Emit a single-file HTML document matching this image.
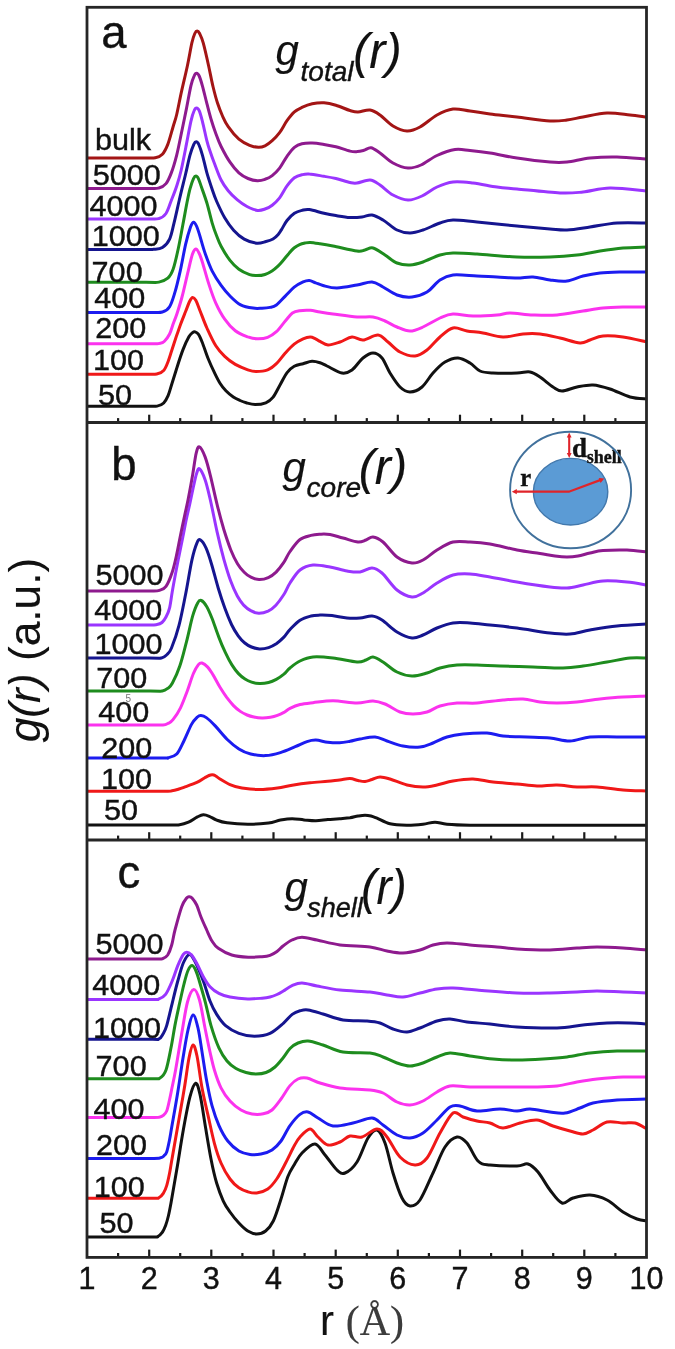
<!DOCTYPE html>
<html><head><meta charset="utf-8"><title>g(r)</title>
<style>
html,body{margin:0;padding:0;background:#fff;}
text.big{stroke-width:0.12px;}
svg{display:block;filter:blur(0.45px);}
text{font-family:"Liberation Sans",sans-serif;fill:#111;stroke:#111;stroke-width:0.4px;}
.c path{fill:none;stroke-width:3;stroke-linejoin:round;stroke-linecap:butt;}
.f{stroke:#262626;stroke-width:2.8;fill:none;}
.t line{stroke:#1a1a1a;stroke-width:2.2;}
</style></head><body>
<svg width="675" height="1349" viewBox="0 0 675 1349">
<rect width="675" height="1349" fill="#fff"/>
<g class="c">
<path d="M87.0,406.2C97.2,406.2 136.2,406.2 148.0,406.2C159.8,406.1 155.2,406.4 157.8,405.9C160.4,405.4 162.0,404.7 163.7,403.0C165.4,401.3 166.7,398.8 168.1,395.6C169.5,392.4 170.4,388.4 171.9,383.7C173.4,379.0 175.2,373.1 177.0,367.4C178.8,361.7 181.0,354.7 183.0,349.6C185.0,344.5 187.3,339.6 188.9,336.8C190.5,334.0 191.6,333.4 192.6,332.6C193.6,331.8 194.1,331.6 195.1,331.9C196.1,332.2 197.3,332.6 198.5,334.3C199.7,336.0 200.6,338.2 202.2,342.2C203.8,346.2 206.1,353.6 208.1,358.5C210.1,363.4 212.1,367.8 214.1,371.9C216.1,376.0 218.0,380.0 220.0,383.2C222.0,386.4 223.7,388.5 225.9,390.8C228.1,393.1 231.0,395.4 233.3,397.0C235.7,398.6 237.8,399.5 240.0,400.5C242.2,401.5 243.7,402.1 246.2,402.8C248.7,403.5 251.8,404.6 255.1,404.6C258.4,404.6 262.8,404.0 265.8,402.8C268.8,401.6 270.5,400.4 272.9,397.4C275.3,394.4 277.6,389.1 280.0,385.0C282.4,380.9 284.7,375.7 287.1,372.6C289.5,369.5 291.5,367.8 294.2,366.3C296.9,364.8 300.1,364.5 303.1,363.7C306.1,362.9 309.2,361.4 312.0,361.3C314.8,361.2 317.5,362.0 320.0,362.8C322.5,363.6 323.3,364.3 327.0,366.0C330.7,367.7 337.8,372.3 342.0,373.0C346.2,373.7 348.5,372.5 352.0,370.0C355.5,367.5 359.5,360.8 363.0,358.0C366.5,355.2 369.8,353.0 373.0,353.0C376.2,353.0 379.2,354.7 382.0,358.0C384.8,361.3 387.0,368.2 390.0,373.0C393.0,377.8 396.7,383.8 400.0,387.0C403.3,390.2 406.3,392.0 410.0,392.0C413.7,392.0 418.2,390.2 422.0,387.0C425.8,383.8 429.2,377.2 433.0,373.0C436.8,368.8 440.8,364.5 445.0,362.0C449.2,359.5 453.8,357.8 458.0,358.0C462.2,358.2 466.3,360.8 470.0,363.0C473.7,365.2 476.2,369.3 480.0,371.0C483.8,372.7 486.8,372.7 493.0,373.0C499.2,373.3 510.8,373.2 517.0,373.0C523.2,372.8 526.2,371.3 530.0,372.0C533.8,372.7 536.2,374.5 540.0,377.0C543.8,379.5 549.3,384.7 553.0,387.0C556.7,389.3 558.0,391.0 562.0,391.0C566.0,391.0 571.8,388.0 577.0,387.0C582.2,386.0 587.5,384.7 593.0,385.0C598.5,385.3 603.8,387.0 610.0,389.0C616.2,391.0 623.8,395.3 630.0,397.0C636.2,398.7 644.2,398.7 647.0,399.0" stroke="#111111"/>
<path d="M87.0,374.3C96.7,374.3 133.2,374.4 145.0,374.3C156.8,374.2 154.3,374.5 157.5,373.8C160.7,373.1 162.1,372.2 163.9,370.2C165.7,368.1 166.8,364.9 168.1,361.5C169.4,358.1 170.4,354.5 171.9,350.0C173.4,345.5 175.5,338.8 177.0,334.5C178.5,330.2 179.3,327.8 180.7,324.0C182.1,320.2 184.1,315.3 185.6,311.5C187.1,307.7 188.6,303.4 189.8,301.0C191.0,298.6 191.7,297.5 192.7,297.4C193.7,297.3 194.6,298.2 195.8,300.3C197.0,302.4 198.0,305.6 199.8,310.2C201.7,314.8 204.2,322.1 206.9,328.0C209.6,333.9 212.8,341.1 215.8,345.8C218.8,350.5 221.4,353.3 224.7,356.4C227.9,359.5 231.5,362.2 235.3,364.4C239.2,366.6 244.4,368.6 247.8,369.8C251.2,371.0 252.7,371.5 256.0,371.5C259.3,371.5 264.2,371.2 267.6,369.9C271.0,368.6 273.4,366.5 276.4,363.7C279.3,360.9 282.3,356.3 285.3,353.0C288.3,349.7 291.2,346.5 294.2,344.1C297.2,341.7 300.4,340.0 303.1,338.8C305.8,337.6 308.1,337.0 310.2,337.0C312.3,337.0 314.0,338.1 315.6,338.8C317.2,339.5 317.9,340.4 320.0,341.4C322.1,342.4 324.7,344.9 328.0,345.0C331.3,345.1 336.0,343.3 340.0,342.0C344.0,340.7 348.2,337.3 352.0,337.0C355.8,336.7 358.7,340.3 363.0,340.0C367.3,339.7 373.8,334.7 378.0,335.0C382.2,335.3 384.3,339.2 388.0,342.0C391.7,344.8 395.5,349.7 400.0,352.0C404.5,354.3 410.5,356.3 415.0,356.0C419.5,355.7 422.8,353.2 427.0,350.0C431.2,346.8 435.7,340.7 440.0,337.0C444.3,333.3 448.5,329.0 453.0,328.0C457.5,327.0 462.0,330.2 467.0,331.0C472.0,331.8 477.0,332.0 483.0,333.0C489.0,334.0 496.3,336.8 503.0,337.0C509.7,337.2 516.8,334.5 523.0,334.0C529.2,333.5 533.8,333.3 540.0,334.0C546.2,334.7 553.3,336.5 560.0,338.0C566.7,339.5 575.0,342.7 580.0,343.0C585.0,343.3 586.2,341.2 590.0,340.0C593.8,338.8 597.5,336.5 603.0,336.0C608.5,335.5 615.7,336.0 623.0,337.0C630.3,338.0 643.0,341.2 647.0,342.0" stroke="#f01818"/>
<path d="M87.0,343.7C97.5,343.7 137.9,343.8 150.0,343.7C162.1,343.6 156.9,343.8 159.3,343.4C161.7,343.0 162.5,343.1 164.2,341.5C165.9,339.9 168.1,337.0 169.6,334.0C171.1,331.0 172.1,326.8 173.3,323.5C174.5,320.2 175.2,318.9 176.7,314.5C178.1,310.1 180.1,304.2 182.0,297.0C183.9,289.8 186.4,278.3 188.2,271.1C189.9,263.9 191.2,257.7 192.5,254.0C193.8,250.3 194.8,249.1 195.9,248.9C197.0,248.7 197.9,250.8 199.0,253.0C200.1,255.2 200.8,257.1 202.4,262.2C204.0,267.3 206.5,276.8 208.7,283.6C210.9,290.4 213.1,297.2 215.8,303.1C218.5,309.0 221.4,314.5 224.7,319.1C227.9,323.7 231.5,327.7 235.3,330.7C239.2,333.7 244.2,335.5 247.8,336.9C251.4,338.2 253.7,338.7 257.0,338.8C260.3,338.9 264.4,338.6 267.6,337.4C270.8,336.2 273.4,334.4 276.4,331.7C279.3,329.0 282.6,324.1 285.3,321.0C288.0,317.9 290.0,314.7 292.4,313.0C294.8,311.3 296.6,311.1 299.6,310.7C302.6,310.2 306.8,310.1 310.2,310.3C313.6,310.5 316.2,311.5 320.0,312.1C323.8,312.7 326.8,313.2 333.0,314.0C339.2,314.8 350.3,316.5 357.0,317.0C363.7,317.5 368.3,316.3 373.0,317.0C377.7,317.7 381.0,319.3 385.0,321.0C389.0,322.7 392.8,325.3 397.0,327.0C401.2,328.7 405.7,331.0 410.0,331.0C414.3,331.0 418.0,329.2 423.0,327.0C428.0,324.8 435.0,320.2 440.0,318.0C445.0,315.8 447.5,314.3 453.0,314.0C458.5,313.7 465.7,315.8 473.0,316.0C480.3,316.2 490.8,315.5 497.0,315.0C503.2,314.5 504.0,313.0 510.0,313.0C516.0,313.0 525.2,314.7 533.0,315.0C540.8,315.3 548.7,315.7 557.0,315.0C565.3,314.3 575.3,312.2 583.0,311.0C590.7,309.8 595.7,308.7 603.0,308.0C610.3,307.3 619.7,307.2 627.0,307.0C634.3,306.8 643.7,307.0 647.0,307.0" stroke="#fb32ee"/>
<path d="M87.0,312.4C97.2,312.4 135.4,312.5 148.0,312.4C160.6,312.3 158.8,312.9 162.4,312.0C166.0,311.1 167.5,310.0 169.6,306.7C171.7,303.4 173.1,298.3 174.9,292.4C176.7,286.5 178.4,279.1 180.2,271.1C182.0,263.1 183.9,251.8 185.6,244.4C187.3,237.1 189.2,230.7 190.5,227.0C191.8,223.3 192.6,222.4 193.6,222.2C194.6,222.0 195.5,223.8 196.5,226.0C197.5,228.2 198.4,231.0 199.8,235.6C201.2,240.2 203.0,247.4 205.1,253.3C207.2,259.2 209.5,265.8 212.2,271.1C214.9,276.4 218.1,281.2 221.1,285.3C224.1,289.4 226.7,292.7 230.0,296.0C233.3,299.3 236.8,302.9 240.7,304.9C244.5,306.9 249.5,307.6 253.1,308.1C256.6,308.7 259.2,308.3 262.0,308.2C264.8,308.1 267.6,307.9 270.0,307.4C272.4,306.9 273.8,306.9 276.4,305.0C278.9,303.1 282.3,299.1 285.3,296.1C288.3,293.1 291.2,289.6 294.2,287.2C297.2,284.8 300.6,283.0 303.1,281.9C305.6,280.8 307.2,280.4 309.3,280.5C311.4,280.6 313.3,282.0 315.6,282.8C317.9,283.6 319.4,284.6 323.0,285.5C326.6,286.4 331.3,288.1 337.0,288.0C342.7,287.9 351.2,286.0 357.0,285.0C362.8,284.0 367.7,281.7 372.0,282.0C376.3,282.3 378.8,284.8 383.0,287.0C387.2,289.2 392.2,293.3 397.0,295.0C401.8,296.7 407.0,297.5 412.0,297.0C417.0,296.5 422.3,294.8 427.0,292.0C431.7,289.2 435.7,282.8 440.0,280.0C444.3,277.2 446.8,275.7 453.0,275.0C459.2,274.3 469.7,275.7 477.0,276.0C484.3,276.3 490.3,276.7 497.0,277.0C503.7,277.3 511.0,278.0 517.0,278.0C523.0,278.0 527.5,276.7 533.0,277.0C538.5,277.3 544.3,279.3 550.0,280.0C555.7,280.7 561.5,281.7 567.0,281.0C572.5,280.3 577.5,277.3 583.0,276.0C588.5,274.7 593.3,273.7 600.0,273.0C606.7,272.3 615.2,272.2 623.0,272.0C630.8,271.8 643.0,272.0 647.0,272.0" stroke="#1c1cf0"/>
<path d="M87.0,282.3C96.8,282.3 134.0,282.3 146.0,282.3C158.0,282.3 155.3,282.8 158.9,282.1C162.5,281.4 165.4,280.3 167.8,278.2C170.2,276.1 171.3,274.3 173.1,269.3C174.9,264.3 176.8,255.5 178.4,248.0C180.0,240.5 181.4,232.3 182.9,224.5C184.4,216.7 186.1,206.9 187.3,201.0C188.5,195.1 189.0,192.6 190.0,188.9C191.0,185.2 192.5,180.7 193.5,178.6C194.5,176.5 195.1,176.1 195.9,176.1C196.7,176.1 197.6,176.9 198.5,178.8C199.4,180.7 200.2,183.5 201.6,187.5C203.0,191.5 205.1,197.1 206.9,203.0C208.7,208.9 210.6,217.7 212.2,223.1C213.8,228.5 215.0,231.7 216.5,235.5C218.0,239.3 218.8,242.0 221.1,246.2C223.3,250.3 227.0,256.5 230.0,260.4C233.0,264.2 235.6,266.9 238.9,269.3C242.2,271.7 246.6,273.6 249.6,274.7C252.6,275.8 254.4,275.6 257.0,275.6C259.6,275.6 262.5,275.3 265.0,274.5C267.5,273.7 269.8,272.4 272.0,271.0C274.2,269.6 276.3,267.7 278.2,265.9C280.1,264.1 281.7,262.1 283.5,260.0C285.3,257.9 287.1,255.4 288.9,253.4C290.6,251.4 292.2,249.5 294.0,248.0C295.8,246.5 297.8,245.4 299.6,244.6C301.4,243.8 303.2,243.4 305.0,243.0C306.8,242.6 307.7,242.3 310.2,242.4C312.7,242.5 316.2,243.1 320.0,243.7C323.8,244.3 326.8,244.8 333.0,246.0C339.2,247.2 351.7,250.3 357.0,251.0C362.3,251.7 362.3,250.5 365.0,250.0C367.7,249.5 369.7,247.2 373.0,248.0C376.3,248.8 381.0,252.5 385.0,255.0C389.0,257.5 392.8,261.3 397.0,263.0C401.2,264.7 405.7,265.2 410.0,265.0C414.3,264.8 418.0,263.7 423.0,262.0C428.0,260.3 435.0,256.5 440.0,255.0C445.0,253.5 446.8,253.2 453.0,253.0C459.2,252.8 466.3,253.3 477.0,254.0C487.7,254.7 504.8,256.5 517.0,257.0C529.2,257.5 540.0,257.3 550.0,257.0C560.0,256.7 568.7,256.0 577.0,255.0C585.3,254.0 592.3,252.2 600.0,251.0C607.7,249.8 615.2,248.7 623.0,248.0C630.8,247.3 643.0,247.2 647.0,247.0" stroke="#1e8c1e"/>
<path d="M87.0,249.5C96.3,249.5 131.9,249.5 143.0,249.5C154.1,249.5 150.4,249.6 153.6,249.3C156.8,249.0 159.7,249.2 162.4,247.5C165.1,245.8 167.7,243.2 169.6,239.1C171.5,235.0 172.4,229.6 174.0,223.1C175.6,216.6 177.4,208.2 179.3,200.0C181.2,191.8 183.8,181.5 185.6,174.0C187.4,166.5 188.6,160.0 190.0,155.1C191.4,150.2 192.8,146.5 193.8,144.3C194.8,142.1 195.4,141.8 196.2,141.8C197.0,141.8 197.8,142.3 198.8,144.5C199.8,146.7 201.1,150.4 202.4,155.1C203.8,159.8 205.3,167.2 206.9,172.9C208.5,178.6 210.6,184.7 212.2,189.5C213.8,194.3 214.6,196.8 216.7,201.5C218.8,206.2 221.9,213.0 224.7,217.8C227.5,222.6 230.3,226.6 233.6,230.2C236.8,233.8 240.3,236.9 244.2,239.1C248.0,241.3 253.1,242.8 256.7,243.2C260.3,243.6 263.3,242.2 266.0,241.5C268.7,240.8 271.0,240.2 273.0,239.0C275.0,237.8 276.8,236.1 278.2,234.5C279.6,232.9 280.0,231.9 281.5,229.6C283.0,227.3 284.9,223.2 287.0,220.5C289.1,217.8 291.9,215.0 294.4,213.3C296.9,211.6 299.4,211.0 301.9,210.4C304.4,209.8 305.6,209.1 309.3,209.6C313.0,210.1 319.6,212.3 324.0,213.3C328.4,214.3 331.6,214.9 335.9,215.6C340.2,216.3 345.6,217.3 350.0,217.5C354.4,217.7 358.3,217.4 362.0,217.0C365.7,216.6 368.5,214.5 372.0,215.0C375.5,215.5 378.8,217.5 383.0,220.0C387.2,222.5 392.5,227.8 397.0,230.0C401.5,232.2 405.7,233.0 410.0,233.0C414.3,233.0 418.0,231.7 423.0,230.0C428.0,228.3 435.0,224.7 440.0,223.0C445.0,221.3 446.8,220.2 453.0,220.0C459.2,219.8 466.3,221.0 477.0,222.0C487.7,223.0 504.8,224.8 517.0,226.0C529.2,227.2 541.7,228.3 550.0,229.0C558.3,229.7 560.3,230.3 567.0,230.0C573.7,229.7 581.7,228.2 590.0,227.0C598.3,225.8 607.5,223.7 617.0,223.0C626.5,222.3 642.0,223.0 647.0,223.0" stroke="#15158f"/>
<path d="M87.0,219.0C96.8,219.0 134.0,219.1 146.0,219.0C158.0,218.9 155.7,219.4 159.0,218.5C162.3,217.6 163.9,216.5 166.0,213.5C168.1,210.5 169.5,205.1 171.3,200.5C173.1,195.9 175.1,191.0 176.7,186.0C178.3,181.0 179.5,177.4 181.1,170.5C182.7,163.6 184.8,152.6 186.4,144.4C188.0,136.2 189.6,127.0 190.9,121.3C192.2,115.6 193.2,112.7 194.2,110.5C195.1,108.3 195.8,108.0 196.6,108.0C197.4,108.0 198.2,108.5 199.2,110.7C200.2,112.9 201.1,116.3 202.4,121.3C203.7,126.3 205.6,135.7 206.9,140.9C208.2,146.1 209.3,148.9 210.5,152.5C211.7,156.1 212.2,157.6 214.0,162.2C215.8,166.8 218.7,175.2 221.1,180.0C223.5,184.8 225.5,187.4 228.2,190.7C230.9,194.0 234.0,197.0 237.1,199.6C240.2,202.2 243.6,204.7 247.0,206.5C250.4,208.3 254.4,210.0 257.4,210.4C260.4,210.8 262.5,209.9 265.0,209.0C267.5,208.1 269.8,207.1 272.2,205.2C274.6,203.3 277.1,201.0 279.6,197.8C282.1,194.6 284.5,189.2 287.0,185.9C289.5,182.6 291.9,179.7 294.4,177.8C296.9,176.0 299.4,175.4 301.9,174.8C304.4,174.2 305.6,173.8 309.3,174.1C313.0,174.3 319.6,175.6 324.0,176.3C328.4,177.0 331.6,177.5 335.9,178.5C340.2,179.5 346.5,181.8 350.0,182.5C353.5,183.2 353.7,183.4 357.0,183.0C360.3,182.6 366.2,179.7 370.0,180.0C373.8,180.3 376.2,182.5 380.0,185.0C383.8,187.5 388.3,192.5 393.0,195.0C397.7,197.5 403.2,199.8 408.0,200.0C412.8,200.2 417.2,198.2 422.0,196.0C426.8,193.8 431.8,189.3 437.0,187.0C442.2,184.7 447.0,182.7 453.0,182.0C459.0,181.3 465.7,182.2 473.0,183.0C480.3,183.8 489.7,186.0 497.0,187.0C504.3,188.0 506.5,188.0 517.0,189.0C527.5,190.0 549.0,192.5 560.0,193.0C571.0,193.5 574.7,192.8 583.0,192.0C591.3,191.2 599.3,188.2 610.0,188.0C620.7,187.8 640.8,190.5 647.0,191.0" stroke="#9a35ff"/>
<path d="M87.0,188.5C96.8,188.5 134.0,188.6 146.0,188.5C158.0,188.4 155.6,188.8 158.9,188.0C162.2,187.2 163.9,186.1 166.0,183.6C168.1,181.1 169.5,177.7 171.3,172.9C173.1,168.2 174.9,162.2 176.7,155.1C178.5,148.0 180.4,137.9 182.0,130.2C183.6,122.5 184.9,116.3 186.4,108.9C187.9,101.5 189.6,91.3 190.9,85.8C192.2,80.3 193.2,77.9 194.2,75.8C195.1,73.7 195.8,73.3 196.6,73.3C197.4,73.3 198.2,73.9 199.2,76.0C200.2,78.1 201.1,81.2 202.4,85.8C203.7,90.4 205.4,97.9 206.9,103.6C208.4,109.3 209.8,115.0 211.3,120.0C212.8,125.0 214.2,129.1 215.8,133.5C217.4,137.9 218.7,141.7 221.1,146.5C223.5,151.3 227.0,157.8 230.0,162.2C233.0,166.6 235.9,170.2 238.9,172.9C241.9,175.6 244.9,177.2 248.0,178.5C251.1,179.8 254.6,180.6 257.4,180.7C260.2,180.8 262.5,180.2 265.0,179.3C267.5,178.5 269.8,177.5 272.2,175.6C274.6,173.7 277.1,171.3 279.6,168.1C282.1,164.9 284.5,159.8 287.0,156.3C289.5,152.9 291.9,149.5 294.4,147.4C296.9,145.3 298.9,144.4 301.9,143.7C304.9,143.0 308.5,142.9 312.2,143.0C315.9,143.1 320.1,143.8 324.0,144.4C327.9,145.0 331.6,145.6 335.9,146.7C340.2,147.8 346.4,150.3 350.0,151.1C353.6,151.9 355.0,151.7 357.3,151.6C359.6,151.5 361.7,150.9 364.0,150.3C366.3,149.7 368.3,147.4 371.0,147.8C373.7,148.2 376.3,150.5 380.0,153.0C383.7,155.5 388.3,160.5 393.0,163.0C397.7,165.5 403.3,167.7 408.0,168.0C412.7,168.3 416.2,167.1 421.0,165.0C425.8,162.9 431.3,158.1 437.0,155.5C442.7,152.9 449.5,150.3 455.0,149.5C460.5,148.7 464.2,149.9 470.0,150.5C475.8,151.1 482.2,151.8 490.0,153.0C497.8,154.2 507.0,156.5 517.0,158.0C527.0,159.5 541.7,161.3 550.0,162.0C558.3,162.7 560.3,162.7 567.0,162.0C573.7,161.3 581.7,158.8 590.0,158.0C598.3,157.2 607.5,156.8 617.0,157.0C626.5,157.2 642.0,158.7 647.0,159.0" stroke="#8e1a8e"/>
<path d="M87.0,158.0C96.3,158.0 131.6,158.0 143.0,158.0C154.4,158.0 152.1,158.4 155.3,157.8C158.5,157.2 160.3,156.4 162.4,154.2C164.5,152.0 166.0,149.0 167.8,144.4C169.6,139.8 171.6,131.7 173.1,126.7C174.6,121.7 175.3,120.4 176.7,114.5C178.1,108.6 179.8,99.1 181.6,91.1C183.4,83.0 185.6,74.2 187.3,66.2C189.0,58.2 190.6,48.6 191.8,43.1C193.1,37.6 193.9,35.5 194.8,33.5C195.7,31.5 196.3,31.0 197.1,31.0C197.9,31.0 198.6,31.5 199.6,33.5C200.6,35.5 201.8,37.6 203.3,43.1C204.8,48.6 207.1,58.9 208.7,66.2C210.3,73.5 211.6,80.9 213.1,87.0C214.6,93.1 215.9,98.2 217.5,103.0C219.1,107.8 220.7,112.0 222.5,116.0C224.3,120.0 225.5,122.9 228.2,126.7C230.9,130.6 235.3,136.0 238.9,139.1C242.5,142.2 246.3,143.9 249.6,145.3C252.8,146.7 255.8,147.2 258.4,147.3C261.0,147.4 262.7,146.9 265.0,145.8C267.3,144.7 269.8,142.9 272.2,140.7C274.6,138.5 277.1,135.9 279.6,132.6C282.1,129.3 284.5,124.2 287.0,120.7C289.5,117.2 291.9,114.1 294.4,111.9C296.9,109.7 298.9,108.8 301.9,107.4C304.9,106.0 308.5,104.5 312.2,103.7C315.9,102.9 320.1,102.5 324.0,102.7C327.9,103.0 331.6,103.9 335.9,105.2C340.2,106.5 346.3,109.4 350.0,110.5C353.7,111.6 354.7,112.1 358.0,112.0C361.3,111.9 366.3,109.5 370.0,110.0C373.7,110.5 376.2,112.3 380.0,115.0C383.8,117.7 388.5,123.3 393.0,126.0C397.5,128.7 402.5,130.8 407.0,131.0C411.5,131.2 415.0,129.7 420.0,127.0C425.0,124.3 431.5,118.0 437.0,115.0C442.5,112.0 447.5,109.7 453.0,109.0C458.5,108.3 463.8,110.2 470.0,111.0C476.2,111.8 482.2,113.0 490.0,114.0C497.8,115.0 507.0,115.8 517.0,117.0C527.0,118.2 541.7,120.5 550.0,121.0C558.3,121.5 561.5,120.7 567.0,120.0C572.5,119.3 576.3,118.2 583.0,117.0C589.7,115.8 599.2,113.3 607.0,113.0C614.8,112.7 623.3,114.3 630.0,115.0C636.7,115.7 644.2,116.7 647.0,117.0" stroke="#a31515"/>
<path d="M87.0,825.0C100.0,825.0 149.6,825.0 165.0,825.0C180.4,825.0 175.7,825.3 179.6,824.8C183.5,824.3 185.5,823.5 188.5,822.2C191.5,820.9 194.9,818.1 197.4,816.9C199.9,815.7 201.3,814.9 203.3,814.8C205.3,814.7 207.1,815.4 209.3,816.3C211.5,817.2 213.8,819.0 216.7,820.1C219.6,821.2 221.8,822.1 227.0,822.8C232.2,823.5 240.9,824.2 247.8,824.3C254.7,824.3 263.1,823.8 268.5,823.1C273.9,822.4 276.4,820.8 280.4,820.1C284.3,819.4 288.3,818.7 292.2,818.7C296.1,818.7 300.1,819.6 304.0,819.9C307.9,820.2 311.9,820.8 315.9,820.7C319.9,820.7 323.9,819.9 327.8,819.6C331.8,819.3 335.9,819.0 339.6,818.7C343.3,818.4 346.9,818.2 350.0,817.8C353.1,817.3 355.5,816.4 358.0,816.0C360.5,815.6 362.8,815.2 365.0,815.2C367.2,815.2 369.0,815.5 371.0,816.0C373.0,816.5 373.8,816.9 377.0,818.2C380.2,819.5 385.0,822.6 390.0,823.8C395.0,825.0 401.5,825.1 407.0,825.2C412.5,825.3 418.3,824.7 423.0,824.2C427.7,823.7 431.0,822.2 435.0,822.2C439.0,822.2 441.2,823.7 447.0,824.2C452.8,824.7 458.7,825.0 470.0,825.2C481.3,825.4 485.5,825.2 515.0,825.2C544.5,825.2 625.0,825.2 647.0,825.2" stroke="#111111"/>
<path d="M87.0,791.3C99.2,791.3 145.8,791.4 160.0,791.3C174.2,791.2 168.8,791.2 172.0,790.8C175.2,790.4 176.7,789.7 179.0,789.0C181.3,788.3 182.5,787.8 185.6,786.7C188.7,785.6 194.2,783.7 197.4,782.2C200.6,780.7 202.9,778.9 204.8,777.8C206.7,776.7 207.8,776.0 209.0,775.5C210.2,775.0 211.1,774.8 212.2,774.8C213.3,774.8 214.3,775.1 215.5,775.8C216.7,776.4 217.2,777.2 219.6,778.7C222.0,780.2 226.3,783.0 230.0,784.6C233.7,786.2 237.0,787.3 241.9,788.1C246.8,788.9 253.7,789.6 259.6,789.6C265.5,789.6 272.0,788.8 277.4,788.1C282.8,787.4 286.8,786.1 292.2,785.2C297.6,784.3 304.1,783.4 310.0,782.8C315.9,782.1 322.9,781.8 327.8,781.3C332.7,780.8 335.9,780.3 339.6,779.9C343.3,779.5 346.9,778.5 350.0,778.6C353.1,778.7 355.5,780.0 358.0,780.5C360.5,781.0 362.7,781.7 365.0,781.5C367.3,781.3 369.5,780.2 372.0,779.5C374.5,778.8 377.0,777.1 380.0,777.0C383.0,776.9 385.5,777.7 390.0,779.0C394.5,780.3 401.5,783.7 407.0,785.0C412.5,786.3 418.0,787.0 423.0,787.0C428.0,787.0 432.0,786.0 437.0,785.0C442.0,784.0 447.0,782.0 453.0,781.0C459.0,780.0 466.3,778.8 473.0,779.0C479.7,779.2 485.7,781.2 493.0,782.0C500.3,782.8 509.7,783.3 517.0,784.0C524.3,784.7 530.3,785.8 537.0,786.0C543.7,786.2 550.3,784.8 557.0,785.0C563.7,785.2 570.3,786.7 577.0,787.0C583.7,787.3 589.3,786.5 597.0,787.0C604.7,787.5 614.7,789.3 623.0,790.0C631.3,790.7 643.0,790.8 647.0,791.0" stroke="#f01818"/>
<path d="M87.0,758.0C99.2,758.0 146.5,758.0 160.0,758.0C173.5,758.0 165.2,758.4 168.0,757.7C170.8,757.0 174.0,756.8 176.7,754.0C179.4,751.2 181.5,745.6 184.0,740.7C186.5,735.8 189.3,728.4 191.5,724.4C193.7,720.4 195.8,718.5 197.4,717.0C199.0,715.5 199.5,715.5 201.0,715.6C202.5,715.7 203.9,715.9 206.3,717.6C208.7,719.3 211.8,722.3 215.2,725.9C218.6,729.5 223.1,735.4 227.0,739.3C230.9,743.1 235.0,746.5 238.9,749.0C242.8,751.5 246.2,752.9 250.7,754.0C255.1,755.1 260.7,755.8 265.6,755.6C270.6,755.4 275.5,754.1 280.4,752.6C285.3,751.1 290.8,748.5 295.2,746.7C299.6,744.9 303.6,742.7 307.0,741.6C310.4,740.5 312.4,740.0 315.9,740.1C319.4,740.2 323.9,741.8 327.8,742.2C331.8,742.7 335.9,742.9 339.6,742.8C343.3,742.6 346.6,741.9 350.0,741.3C353.4,740.7 355.8,739.7 360.0,739.0C364.2,738.3 370.5,736.7 375.0,737.0C379.5,737.3 382.3,739.5 387.0,741.0C391.7,742.5 397.5,745.0 403.0,746.0C408.5,747.0 415.0,747.5 420.0,747.0C425.0,746.5 428.5,744.7 433.0,743.0C437.5,741.3 442.0,738.5 447.0,737.0C452.0,735.5 456.3,734.7 463.0,734.0C469.7,733.3 480.3,732.7 487.0,733.0C493.7,733.3 496.3,735.3 503.0,736.0C509.7,736.7 519.2,736.7 527.0,737.0C534.8,737.3 542.8,737.3 550.0,738.0C557.2,738.7 563.3,741.2 570.0,741.0C576.7,740.8 582.2,737.7 590.0,737.0C597.8,736.3 607.5,737.0 617.0,737.0C626.5,737.0 642.0,737.0 647.0,737.0" stroke="#1c1cf0"/>
<path d="M87.0,725.0C97.7,725.0 138.3,725.0 151.0,725.0C163.7,725.0 160.1,725.3 163.0,725.0C165.9,724.7 166.8,724.0 168.5,723.1C170.2,722.3 171.0,722.3 173.0,719.7C175.0,717.2 178.2,712.6 180.5,707.9C182.8,703.2 184.9,697.2 187.1,691.5C189.2,685.8 191.5,678.0 193.4,673.5C195.3,669.1 197.0,666.4 198.4,664.6C199.8,662.9 200.5,662.6 202.0,663.0C203.5,663.4 205.8,665.1 207.7,667.1C209.6,669.1 211.1,671.8 213.2,675.1C215.2,678.4 217.7,683.5 220.0,687.2C222.3,690.9 224.5,694.3 226.7,697.4C229.0,700.4 231.3,703.3 233.5,705.6C235.8,708.0 238.1,709.8 240.3,711.4C242.6,713.0 244.8,714.0 247.1,715.0C249.3,715.9 251.4,716.5 253.9,717.0C256.4,717.5 259.2,717.9 262.0,718.0C264.8,718.1 267.8,717.7 270.4,717.3C273.0,716.9 275.1,716.3 277.4,715.4C279.7,714.5 282.3,713.2 284.4,712.1C286.5,710.9 287.4,709.6 290.0,708.3C292.6,707.0 296.2,705.4 300.0,704.5C303.8,703.6 307.5,703.3 313.0,702.7C318.5,702.1 325.7,700.8 333.0,700.8C340.3,700.8 350.3,703.0 357.0,703.0C363.7,703.0 368.3,700.8 373.0,701.0C377.7,701.2 380.5,702.2 385.0,704.0C389.5,705.8 395.3,710.3 400.0,712.0C404.7,713.7 408.5,714.0 413.0,714.0C417.5,714.0 422.5,713.3 427.0,712.0C431.5,710.7 435.0,707.5 440.0,706.0C445.0,704.5 450.8,703.5 457.0,703.0C463.2,702.5 469.3,703.5 477.0,703.0C484.7,702.5 495.3,700.7 503.0,700.0C510.7,699.3 516.8,698.7 523.0,699.0C529.2,699.3 534.3,701.3 540.0,702.0C545.7,702.7 550.8,703.0 557.0,703.0C563.2,703.0 569.8,702.7 577.0,702.0C584.2,701.3 592.3,699.8 600.0,699.0C607.7,698.2 615.2,697.5 623.0,697.0C630.8,696.5 643.0,696.2 647.0,696.0" stroke="#fb32ee"/>
<path d="M87.0,691.0C97.5,691.0 137.8,691.0 150.3,691.0C162.9,691.0 159.4,691.5 162.3,691.0C165.2,690.5 166.1,689.6 167.8,688.3C169.5,687.0 170.3,687.0 172.3,683.3C174.3,679.6 177.5,672.9 179.8,666.0C182.2,659.2 184.2,650.5 186.4,642.1C188.6,633.8 190.8,622.4 192.7,615.9C194.6,609.3 196.3,605.4 197.7,602.9C199.1,600.3 199.8,599.9 201.3,600.5C202.8,601.1 205.0,603.7 206.8,606.7C208.6,609.8 210.2,613.7 212.2,618.8C214.1,623.8 216.6,631.5 218.8,637.1C220.9,642.7 223.1,647.8 225.3,652.4C227.5,657.1 229.7,661.4 231.9,664.9C234.1,668.4 236.3,671.3 238.5,673.6C240.7,676.0 242.8,677.6 245.0,679.0C247.2,680.4 249.2,681.3 251.6,682.1C254.0,682.9 256.7,683.5 259.5,683.6C262.3,683.7 265.9,683.2 268.6,682.5C271.4,681.8 273.7,680.8 276.3,679.4C278.8,678.0 281.6,676.0 283.9,674.1C286.2,672.1 287.3,670.2 290.0,668.0C292.7,665.8 296.2,662.8 300.0,661.0C303.8,659.2 307.5,657.5 313.0,657.0C318.5,656.5 325.7,657.2 333.0,658.0C340.3,658.8 351.5,661.7 357.0,662.0C362.5,662.3 363.3,660.8 366.0,660.0C368.7,659.2 370.2,656.7 373.0,657.0C375.8,657.3 379.0,659.5 383.0,662.0C387.0,664.5 392.2,669.7 397.0,672.0C401.8,674.3 407.0,675.8 412.0,676.0C417.0,676.2 422.3,674.3 427.0,673.0C431.7,671.7 435.0,669.3 440.0,668.0C445.0,666.7 450.8,665.5 457.0,665.0C463.2,664.5 469.8,664.8 477.0,665.0C484.2,665.2 490.7,665.7 500.0,666.0C509.3,666.3 522.5,666.7 533.0,667.0C543.5,667.3 554.7,668.2 563.0,668.0C571.3,667.8 575.7,667.0 583.0,666.0C590.3,665.0 599.2,663.3 607.0,662.0C614.8,660.7 623.3,658.7 630.0,658.0C636.7,657.3 644.2,658.0 647.0,658.0" stroke="#1e8c1e"/>
<path d="M87.0,658.0C97.4,658.0 137.1,658.0 149.5,658.0C161.9,658.0 158.6,658.6 161.5,658.0C164.4,657.4 165.3,656.1 167.0,654.5C168.7,652.8 169.5,652.8 171.5,648.0C173.5,643.1 176.7,634.4 179.0,625.4C181.3,616.5 183.4,605.2 185.6,594.3C187.8,583.4 190.0,568.6 191.9,560.1C193.8,551.5 195.5,546.4 196.9,543.1C198.3,539.7 199.0,539.1 200.5,540.0C202.0,540.9 204.3,544.2 206.1,548.2C207.9,552.2 209.5,557.3 211.5,564.0C213.5,570.6 216.0,580.6 218.2,588.0C220.4,595.3 222.6,602.0 224.8,608.1C227.0,614.2 229.3,619.8 231.5,624.5C233.7,629.1 236.0,632.8 238.2,635.9C240.4,639.0 242.6,641.2 244.8,643.0C247.0,644.9 249.1,646.0 251.5,647.0C253.9,648.0 256.6,648.9 259.5,649.0C262.4,649.1 265.9,648.5 268.6,647.6C271.4,646.7 273.7,645.5 276.3,643.8C278.8,642.0 281.6,639.4 283.9,637.1C286.2,634.7 287.3,632.3 290.0,629.5C292.7,626.7 296.5,622.5 300.0,620.2C303.5,618.0 307.7,616.9 311.0,616.0C314.3,615.1 316.5,615.2 320.0,615.1C323.5,615.0 327.5,615.1 332.0,615.6C336.5,616.1 342.3,617.6 347.0,618.0C351.7,618.4 355.8,618.3 360.0,618.0C364.2,617.7 368.3,615.7 372.0,616.0C375.7,616.3 377.8,617.3 382.0,620.0C386.2,622.7 392.0,629.0 397.0,632.0C402.0,635.0 407.7,637.5 412.0,638.0C416.3,638.5 418.8,636.7 423.0,635.0C427.2,633.3 432.0,630.0 437.0,628.0C442.0,626.0 447.5,623.8 453.0,623.0C458.5,622.2 463.8,622.7 470.0,623.0C476.2,623.3 482.2,624.2 490.0,625.0C497.8,625.8 507.0,626.7 517.0,628.0C527.0,629.3 541.2,632.0 550.0,633.0C558.8,634.0 563.3,634.5 570.0,634.0C576.7,633.5 582.2,631.3 590.0,630.0C597.8,628.7 607.5,627.0 617.0,626.0C626.5,625.0 642.0,624.3 647.0,624.0" stroke="#15158f"/>
<path d="M87.0,625.0C96.7,625.0 133.3,625.1 145.0,625.0C156.7,624.9 154.2,625.0 157.0,624.6C159.8,624.2 160.5,623.8 162.0,622.5C163.5,621.2 164.7,619.5 166.0,617.0C167.3,614.5 168.6,612.0 169.6,607.8C170.6,603.6 171.2,597.9 172.2,592.0C173.2,586.1 174.6,578.5 175.8,572.2C177.0,565.9 178.1,560.3 179.3,554.4C180.5,548.5 181.7,542.6 182.9,536.7C184.1,530.8 185.2,524.5 186.4,518.9C187.6,513.3 188.8,508.5 190.0,503.0C191.2,497.5 192.5,490.9 193.6,486.0C194.7,481.1 195.6,476.4 196.6,473.5C197.6,470.6 198.0,467.8 199.4,468.8C200.8,469.8 203.2,474.3 205.0,479.6C206.9,484.9 208.4,491.8 210.5,500.6C212.5,509.4 215.0,522.6 217.2,532.4C219.4,542.1 221.6,551.0 223.8,559.1C226.1,567.2 228.3,574.6 230.6,580.8C232.8,586.9 235.1,591.9 237.3,596.0C239.5,600.1 241.7,602.9 243.9,605.4C246.2,607.8 248.2,609.4 250.7,610.7C253.1,612.0 255.8,613.2 258.7,613.3C261.6,613.4 265.2,612.5 268.1,611.2C271.0,609.8 273.3,607.9 275.9,605.2C278.5,602.4 281.4,598.4 283.7,594.8C286.1,591.1 287.3,587.1 290.0,583.0C292.7,578.9 296.2,573.0 300.0,570.0C303.8,567.0 308.0,565.5 313.0,565.0C318.0,564.5 324.3,566.0 330.0,567.0C335.7,568.0 342.0,570.2 347.0,571.0C352.0,571.8 355.8,572.5 360.0,572.0C364.2,571.5 368.3,567.8 372.0,568.0C375.7,568.2 377.8,569.3 382.0,573.0C386.2,576.7 392.0,586.0 397.0,590.0C402.0,594.0 407.7,596.5 412.0,597.0C416.3,597.5 418.8,595.3 423.0,593.0C427.2,590.7 432.0,586.0 437.0,583.0C442.0,580.0 447.5,576.5 453.0,575.0C458.5,573.5 463.8,573.7 470.0,574.0C476.2,574.3 482.2,575.7 490.0,577.0C497.8,578.3 507.0,580.3 517.0,582.0C527.0,583.7 541.7,586.0 550.0,587.0C558.3,588.0 561.5,588.3 567.0,588.0C572.5,587.7 577.0,586.2 583.0,585.0C589.0,583.8 595.7,581.5 603.0,581.0C610.3,580.5 619.7,581.3 627.0,582.0C634.3,582.7 643.7,584.5 647.0,585.0" stroke="#9a35ff"/>
<path d="M87.0,591.0C95.8,591.0 129.2,591.0 140.0,591.0C150.8,591.0 148.8,591.1 152.0,591.0C155.2,590.9 157.2,591.1 159.5,590.3C161.8,589.5 163.9,589.4 166.0,586.4C168.1,583.4 170.4,577.5 172.2,572.2C174.0,566.9 175.4,560.3 176.7,554.4C178.0,548.5 178.9,543.2 180.2,536.7C181.5,530.2 183.4,521.6 184.7,515.3C186.0,509.0 186.9,505.8 188.2,499.0C189.5,492.2 191.4,482.0 192.7,474.4C194.0,466.8 195.1,457.7 196.2,453.1C197.3,448.5 197.9,446.3 199.4,446.9C200.9,447.5 203.2,452.0 205.1,456.9C206.9,461.7 208.5,468.0 210.5,476.1C212.5,484.2 215.0,496.3 217.3,505.3C219.5,514.2 221.7,522.4 223.9,529.8C226.2,537.2 228.5,544.1 230.7,549.7C233.0,555.4 235.2,559.9 237.5,563.7C239.7,567.4 241.9,570.0 244.2,572.3C246.4,574.6 248.4,576.0 250.9,577.2C253.4,578.4 256.1,579.5 259.0,579.6C261.9,579.7 265.5,578.9 268.3,577.6C271.1,576.4 273.5,574.6 276.1,572.1C278.6,569.5 281.5,565.8 283.8,562.4C286.1,559.0 287.3,555.3 290.0,551.5C292.7,547.7 296.5,542.2 300.0,539.5C303.5,536.8 307.7,536.3 311.0,535.4C314.3,534.5 316.8,534.4 320.0,534.2C323.2,534.1 326.2,533.9 330.0,534.5C333.8,535.1 338.3,536.8 343.0,538.0C347.7,539.2 354.2,541.7 358.0,542.0C361.8,542.3 363.5,540.8 366.0,540.0C368.5,539.2 370.2,536.7 373.0,537.0C375.8,537.3 379.0,538.7 383.0,542.0C387.0,545.3 392.2,553.5 397.0,557.0C401.8,560.5 407.7,562.5 412.0,563.0C416.3,563.5 418.8,562.2 423.0,560.0C427.2,557.8 432.0,553.0 437.0,550.0C442.0,547.0 447.5,543.3 453.0,542.0C458.5,540.7 463.8,541.7 470.0,542.0C476.2,542.3 482.2,542.7 490.0,544.0C497.8,545.3 508.7,548.4 517.0,550.0C525.3,551.6 533.7,552.5 540.0,553.5C546.3,554.5 550.5,555.4 555.0,556.0C559.5,556.6 563.2,557.0 567.0,557.0C570.8,557.0 574.2,556.7 578.0,556.0C581.8,555.3 585.8,553.9 590.0,553.0C594.2,552.1 596.8,551.0 603.0,550.5C609.2,550.0 619.7,549.8 627.0,550.0C634.3,550.2 643.7,551.7 647.0,552.0" stroke="#8e1a8e"/>
<path d="M87.0,1237.0C97.5,1237.0 138.2,1237.1 150.0,1237.0C161.8,1236.9 155.9,1237.1 158.0,1236.3C160.1,1235.5 161.2,1233.8 162.5,1232.0C163.8,1230.2 164.6,1228.3 165.6,1225.6C166.6,1222.8 167.6,1219.3 168.5,1215.5C169.4,1211.7 169.6,1210.6 171.0,1203.0C172.4,1195.4 174.6,1182.2 176.7,1170.0C178.8,1157.8 181.1,1142.2 183.3,1130.0C185.5,1117.8 187.9,1104.5 190.0,1096.7C192.1,1088.9 193.9,1083.7 195.6,1083.3C197.3,1082.9 198.3,1087.0 200.0,1094.4C201.7,1101.8 203.8,1117.0 205.6,1127.8C207.4,1138.6 209.2,1149.8 211.0,1159.0C212.8,1168.2 214.6,1176.3 216.7,1183.3C218.8,1190.3 221.1,1196.2 223.3,1201.0C225.5,1205.8 227.4,1208.3 230.0,1212.0C232.6,1215.7 235.9,1219.8 238.9,1223.0C241.9,1226.2 244.8,1229.2 247.8,1231.0C250.8,1232.8 253.7,1234.0 256.7,1234.0C259.7,1234.0 262.8,1233.2 265.6,1231.0C268.4,1228.8 270.7,1226.3 273.3,1221.0C275.9,1215.7 278.6,1206.4 281.0,1199.0C283.4,1191.6 285.6,1182.5 287.8,1176.7C290.0,1170.9 292.0,1168.4 294.4,1164.4C296.8,1160.5 298.6,1156.4 302.0,1153.0C305.4,1149.6 311.2,1143.7 315.0,1144.0C318.8,1144.3 321.3,1150.7 325.0,1155.0C328.7,1159.3 333.7,1167.0 337.0,1170.0C340.3,1173.0 341.7,1174.3 345.0,1173.0C348.3,1171.7 353.2,1167.8 357.0,1162.0C360.8,1156.2 364.7,1143.3 368.0,1138.0C371.3,1132.7 374.2,1129.2 377.0,1130.0C379.8,1130.8 382.3,1135.8 385.0,1143.0C387.7,1150.2 390.2,1163.8 393.0,1173.0C395.8,1182.2 399.2,1192.5 402.0,1198.0C404.8,1203.5 407.0,1205.7 410.0,1206.0C413.0,1206.3 416.2,1205.5 420.0,1200.0C423.8,1194.5 428.8,1181.8 433.0,1173.0C437.2,1164.2 441.0,1153.0 445.0,1147.0C449.0,1141.0 453.3,1137.7 457.0,1137.0C460.7,1136.3 463.5,1139.0 467.0,1143.0C470.5,1147.0 474.2,1157.3 478.0,1161.0C481.8,1164.7 483.5,1164.2 490.0,1165.0C496.5,1165.8 510.7,1166.2 517.0,1166.0C523.3,1165.8 524.5,1163.0 528.0,1164.0C531.5,1165.0 534.3,1167.7 538.0,1172.0C541.7,1176.3 546.0,1184.8 550.0,1190.0C554.0,1195.2 558.2,1201.7 562.0,1203.0C565.8,1204.3 568.3,1199.3 573.0,1198.0C577.7,1196.7 584.3,1194.7 590.0,1195.0C595.7,1195.3 601.5,1197.2 607.0,1200.0C612.5,1202.8 618.0,1208.8 623.0,1212.0C628.0,1215.2 633.0,1217.5 637.0,1219.0C641.0,1220.5 645.3,1220.7 647.0,1221.0" stroke="#111111"/>
<path d="M87.0,1198.3C97.5,1198.3 138.0,1198.4 150.0,1198.3C162.0,1198.2 156.8,1198.5 159.0,1197.6C161.2,1196.7 162.2,1195.0 163.5,1193.0C164.8,1191.0 165.7,1188.8 166.7,1185.6C167.7,1182.3 168.6,1177.9 169.5,1173.5C170.4,1169.1 170.4,1168.1 172.0,1159.0C173.6,1149.9 176.9,1130.9 179.0,1119.0C181.1,1107.1 182.7,1098.0 184.4,1087.8C186.1,1077.6 187.6,1065.1 189.0,1058.0C190.4,1050.9 191.7,1045.3 193.0,1045.0C194.3,1044.7 195.5,1048.9 197.0,1056.0C198.5,1063.1 200.2,1078.1 202.0,1087.8C203.8,1097.5 205.7,1105.2 207.8,1114.4C209.9,1123.7 212.2,1135.2 214.4,1143.3C216.6,1151.4 218.4,1157.0 221.0,1163.0C223.6,1169.0 227.0,1174.9 230.0,1179.0C233.0,1183.1 235.9,1185.7 238.9,1187.8C241.9,1189.9 244.8,1190.9 247.8,1191.8C250.8,1192.7 253.4,1193.5 256.7,1193.0C260.0,1192.5 264.5,1191.3 267.8,1189.0C271.1,1186.7 273.7,1183.3 276.7,1179.0C279.7,1174.7 282.7,1168.6 285.6,1163.0C288.6,1157.4 292.0,1149.9 294.4,1145.6C296.8,1141.3 297.4,1139.8 300.0,1137.0C302.6,1134.2 307.0,1129.0 310.0,1129.0C313.0,1129.0 315.0,1134.3 318.0,1137.0C321.0,1139.7 324.3,1144.2 328.0,1145.0C331.7,1145.8 336.3,1143.5 340.0,1142.0C343.7,1140.5 346.3,1136.8 350.0,1136.0C353.7,1135.2 357.5,1138.2 362.0,1137.0C366.5,1135.8 372.8,1129.0 377.0,1129.0C381.2,1129.0 383.2,1132.3 387.0,1137.0C390.8,1141.7 395.3,1152.3 400.0,1157.0C404.7,1161.7 410.5,1164.8 415.0,1165.0C419.5,1165.2 422.8,1163.3 427.0,1158.0C431.2,1152.7 435.7,1140.5 440.0,1133.0C444.3,1125.5 449.2,1115.7 453.0,1113.0C456.8,1110.3 459.0,1115.7 463.0,1117.0C467.0,1118.3 472.5,1120.0 477.0,1121.0C481.5,1122.0 485.7,1121.8 490.0,1123.0C494.3,1124.2 498.0,1128.0 503.0,1128.0C508.0,1128.0 514.3,1124.3 520.0,1123.0C525.7,1121.7 531.5,1119.5 537.0,1120.0C542.5,1120.5 547.5,1124.2 553.0,1126.0C558.5,1127.8 565.0,1129.7 570.0,1131.0C575.0,1132.3 579.2,1134.2 583.0,1134.0C586.8,1133.8 589.0,1132.0 593.0,1130.0C597.0,1128.0 602.0,1123.2 607.0,1122.0C612.0,1120.8 618.3,1122.8 623.0,1123.0C627.7,1123.2 631.0,1122.0 635.0,1123.0C639.0,1124.0 645.0,1128.0 647.0,1129.0" stroke="#f01818"/>
<path d="M87.0,1158.4C97.5,1158.4 137.8,1158.5 150.0,1158.4C162.2,1158.3 158.2,1158.2 160.5,1157.8C162.8,1157.4 163.0,1156.8 164.0,1155.8C165.0,1154.8 165.8,1154.6 166.7,1152.0C167.6,1149.4 168.6,1144.4 169.5,1140.0C170.4,1135.6 170.6,1133.6 172.0,1125.6C173.4,1117.6 176.0,1103.3 177.8,1092.0C179.6,1080.7 181.3,1068.3 183.0,1058.0C184.7,1047.7 186.3,1037.2 188.0,1030.0C189.7,1022.8 191.3,1015.3 193.0,1015.0C194.7,1014.7 196.4,1021.3 198.0,1028.0C199.6,1034.7 201.1,1046.2 202.5,1055.0C203.9,1063.8 205.1,1072.6 206.7,1081.0C208.3,1089.4 209.9,1098.2 212.0,1105.6C214.1,1113.0 216.4,1119.7 219.0,1125.6C221.6,1131.5 224.5,1136.8 227.8,1141.0C231.1,1145.2 235.2,1148.8 238.9,1151.0C242.6,1153.2 246.3,1153.9 250.0,1154.4C253.7,1154.9 257.3,1154.7 261.0,1154.0C264.7,1153.3 268.7,1152.2 272.0,1150.0C275.3,1147.8 278.0,1145.1 281.0,1141.0C284.0,1136.9 286.8,1130.0 290.0,1125.6C293.2,1121.2 297.0,1116.7 300.0,1114.4C303.0,1112.1 305.0,1111.4 308.0,1112.0C311.0,1112.6 313.8,1115.7 318.0,1118.0C322.2,1120.3 327.2,1125.2 333.0,1126.0C338.8,1126.8 346.5,1124.3 353.0,1123.0C359.5,1121.7 367.0,1117.7 372.0,1118.0C377.0,1118.3 378.8,1122.2 383.0,1125.0C387.2,1127.8 392.5,1132.8 397.0,1135.0C401.5,1137.2 405.7,1138.3 410.0,1138.0C414.3,1137.7 418.5,1136.0 423.0,1133.0C427.5,1130.0 432.5,1124.3 437.0,1120.0C441.5,1115.7 446.2,1109.3 450.0,1107.0C453.8,1104.7 455.5,1105.3 460.0,1106.0C464.5,1106.7 470.3,1110.5 477.0,1111.0C483.7,1111.5 493.3,1109.0 500.0,1109.0C506.7,1109.0 512.0,1111.0 517.0,1111.0C522.0,1111.0 524.5,1108.8 530.0,1109.0C535.5,1109.2 544.2,1111.3 550.0,1112.0C555.8,1112.7 560.0,1113.7 565.0,1113.0C570.0,1112.3 575.3,1109.7 580.0,1108.0C584.7,1106.3 586.8,1104.3 593.0,1103.0C599.2,1101.7 608.0,1100.7 617.0,1100.0C626.0,1099.3 642.0,1099.2 647.0,1099.0" stroke="#1c1cf0"/>
<path d="M87.0,1117.5C97.5,1117.5 137.8,1117.6 150.0,1117.5C162.2,1117.4 157.8,1117.4 160.0,1117.0C162.2,1116.6 162.2,1116.3 163.3,1115.3C164.4,1114.3 165.6,1113.6 166.7,1111.0C167.8,1108.4 168.7,1103.4 169.6,1099.5C170.5,1095.6 171.0,1092.7 172.0,1087.8C173.0,1082.9 174.0,1078.8 175.6,1070.0C177.2,1061.2 179.5,1046.3 181.5,1035.0C183.5,1023.7 185.4,1009.6 187.5,1002.0C189.6,994.4 191.8,989.8 193.8,989.5C195.8,989.2 197.6,993.6 199.5,1000.0C201.4,1006.4 203.2,1019.3 205.0,1028.0C206.8,1036.7 208.4,1045.0 210.0,1052.0C211.6,1059.0 212.6,1064.0 214.4,1070.0C216.2,1076.0 218.4,1082.6 221.0,1087.8C223.6,1093.0 226.7,1097.3 230.0,1101.0C233.3,1104.7 237.3,1107.8 241.0,1110.0C244.7,1112.2 248.3,1113.4 252.0,1114.0C255.7,1114.6 260.0,1114.5 263.3,1113.8C266.6,1113.1 269.1,1112.5 272.0,1110.0C274.9,1107.5 278.0,1103.1 281.0,1099.0C284.0,1094.9 287.2,1088.9 290.0,1085.6C292.8,1082.3 295.2,1080.3 298.0,1079.0C300.8,1077.7 303.3,1077.3 307.0,1078.0C310.7,1078.7 314.5,1081.3 320.0,1083.0C325.5,1084.7 331.7,1086.8 340.0,1088.0C348.3,1089.2 362.8,1089.2 370.0,1090.0C377.2,1090.8 378.5,1091.0 383.0,1093.0C387.5,1095.0 392.5,1100.0 397.0,1102.0C401.5,1104.0 405.7,1105.2 410.0,1105.0C414.3,1104.8 418.5,1103.2 423.0,1101.0C427.5,1098.8 432.5,1094.5 437.0,1092.0C441.5,1089.5 444.5,1086.8 450.0,1086.0C455.5,1085.2 461.7,1086.8 470.0,1087.0C478.3,1087.2 489.5,1087.0 500.0,1087.0C510.5,1087.0 523.5,1087.2 533.0,1087.0C542.5,1086.8 549.7,1086.8 557.0,1086.0C564.3,1085.2 570.3,1083.2 577.0,1082.0C583.7,1080.8 589.3,1079.8 597.0,1079.0C604.7,1078.2 614.7,1077.3 623.0,1077.0C631.3,1076.7 643.0,1077.0 647.0,1077.0" stroke="#fb32ee"/>
<path d="M87.0,1078.7C97.5,1078.7 137.8,1078.8 150.0,1078.7C162.2,1078.6 157.3,1079.5 160.0,1078.0C162.7,1076.5 164.2,1075.0 166.0,1070.0C167.8,1065.0 169.5,1055.2 171.0,1047.8C172.5,1040.4 173.5,1033.0 174.9,1025.6C176.3,1018.2 178.1,1010.2 179.6,1003.3C181.1,996.4 182.6,989.5 184.0,984.0C185.4,978.5 186.6,973.6 188.0,970.5C189.4,967.4 190.9,965.5 192.2,965.6C193.5,965.7 194.8,968.4 196.0,971.0C197.2,973.6 197.7,975.6 199.3,981.0C200.9,986.4 203.7,995.9 205.6,1003.3C207.5,1010.7 208.8,1018.2 211.0,1025.6C213.2,1033.0 216.2,1041.9 218.9,1047.8C221.6,1053.7 224.2,1057.5 227.0,1061.0C229.8,1064.5 232.8,1066.6 236.0,1068.5C239.2,1070.4 242.7,1071.6 246.0,1072.5C249.3,1073.4 252.7,1074.0 256.0,1074.0C259.3,1074.0 262.8,1073.7 266.0,1072.5C269.2,1071.3 272.2,1069.4 275.0,1067.0C277.8,1064.6 280.5,1061.1 283.0,1058.0C285.5,1054.9 287.5,1051.0 290.0,1048.5C292.5,1046.0 295.0,1044.2 298.0,1043.0C301.0,1041.8 303.8,1040.7 308.0,1041.0C312.2,1041.3 317.2,1043.2 323.0,1045.0C328.8,1046.8 335.2,1050.7 343.0,1052.0C350.8,1053.3 363.3,1052.2 370.0,1053.0C376.7,1053.8 378.5,1055.3 383.0,1057.0C387.5,1058.7 392.5,1061.5 397.0,1063.0C401.5,1064.5 405.7,1066.0 410.0,1066.0C414.3,1066.0 418.5,1064.5 423.0,1063.0C427.5,1061.5 432.5,1058.7 437.0,1057.0C441.5,1055.3 444.5,1053.2 450.0,1053.0C455.5,1052.8 462.8,1055.0 470.0,1056.0C477.2,1057.0 485.2,1058.3 493.0,1059.0C500.8,1059.7 508.7,1060.0 517.0,1060.0C525.3,1060.0 534.7,1059.5 543.0,1059.0C551.3,1058.5 559.2,1058.0 567.0,1057.0C574.8,1056.0 581.7,1054.0 590.0,1053.0C598.3,1052.0 607.5,1051.3 617.0,1051.0C626.5,1050.7 642.0,1051.0 647.0,1051.0" stroke="#1e8c1e"/>
<path d="M87.0,1039.3C97.5,1039.3 138.0,1039.4 150.0,1039.3C162.0,1039.2 156.7,1039.8 158.9,1038.9C161.1,1038.0 161.7,1036.2 163.0,1034.0C164.3,1031.8 165.2,1030.7 166.7,1025.6C168.2,1020.5 170.3,1010.7 172.2,1003.3C174.0,995.9 175.9,987.8 177.8,981.0C179.7,974.2 181.5,966.9 183.5,962.5C185.5,958.1 187.6,954.4 189.6,954.4C191.6,954.4 193.2,958.1 195.5,962.5C197.8,966.9 200.9,974.6 203.3,981.0C205.7,987.4 207.8,995.4 210.0,1001.0C212.2,1006.6 214.1,1010.3 216.7,1014.4C219.3,1018.5 221.9,1022.4 225.6,1025.6C229.3,1028.8 234.1,1031.5 238.9,1033.3C243.7,1035.1 249.2,1036.2 254.4,1036.2C259.6,1036.2 265.2,1035.5 270.0,1033.3C274.8,1031.1 279.6,1026.5 283.3,1023.3C287.0,1020.1 289.4,1016.5 292.2,1014.4C295.0,1012.3 297.4,1011.5 300.0,1010.8C302.6,1010.1 304.2,1009.5 308.0,1010.0C311.8,1010.5 317.2,1012.3 323.0,1014.0C328.8,1015.7 335.7,1018.8 343.0,1020.0C350.3,1021.2 360.8,1020.5 367.0,1021.0C373.2,1021.5 375.7,1021.7 380.0,1023.0C384.3,1024.3 388.5,1027.5 393.0,1029.0C397.5,1030.5 402.5,1032.2 407.0,1032.0C411.5,1031.8 415.0,1029.8 420.0,1028.0C425.0,1026.2 432.0,1022.5 437.0,1021.0C442.0,1019.5 445.0,1018.8 450.0,1019.0C455.0,1019.2 460.3,1021.2 467.0,1022.0C473.7,1022.8 481.7,1023.2 490.0,1024.0C498.3,1024.8 505.8,1026.3 517.0,1027.0C528.2,1027.7 546.0,1028.3 557.0,1028.0C568.0,1027.7 574.7,1025.8 583.0,1025.0C591.3,1024.2 599.2,1023.3 607.0,1023.0C614.8,1022.7 623.3,1022.8 630.0,1023.0C636.7,1023.2 644.2,1023.8 647.0,1024.0" stroke="#15158f"/>
<path d="M87.0,999.5C97.5,999.5 138.0,999.6 150.0,999.5C162.0,999.4 156.3,999.8 158.9,998.9C161.5,998.0 163.4,997.4 165.6,994.4C167.8,991.4 170.2,985.8 172.2,981.0C174.2,976.2 176.0,970.0 177.8,965.6C179.7,961.2 181.8,956.6 183.3,954.4C184.8,952.2 185.4,952.2 186.7,952.2C188.0,952.2 189.3,952.5 191.0,954.4C192.7,956.2 194.6,959.6 196.7,963.3C198.8,967.0 201.1,972.8 203.3,976.7C205.5,980.6 207.4,983.9 210.0,986.7C212.6,989.5 215.6,991.6 218.9,993.3C222.2,995.0 225.2,996.1 230.0,997.0C234.8,997.9 242.5,998.7 247.8,998.9C253.1,999.1 258.3,998.5 262.0,998.2C265.7,997.9 267.5,997.6 270.0,997.0C272.5,996.4 274.8,995.5 277.0,994.5C279.2,993.5 280.8,992.5 283.3,991.0C285.8,989.5 288.9,986.9 292.0,985.6C295.1,984.3 297.8,982.9 302.0,983.0C306.2,983.1 310.7,984.8 317.0,986.0C323.3,987.2 331.2,989.0 340.0,990.0C348.8,991.0 362.2,991.2 370.0,992.0C377.8,992.8 381.5,994.2 387.0,995.0C392.5,995.8 397.5,997.3 403.0,997.0C408.5,996.7 414.3,994.3 420.0,993.0C425.7,991.7 431.5,989.8 437.0,989.0C442.5,988.2 446.3,987.8 453.0,988.0C459.7,988.2 466.3,989.2 477.0,990.0C487.7,990.8 504.8,992.5 517.0,993.0C529.2,993.5 540.0,993.2 550.0,993.0C560.0,992.8 569.2,992.3 577.0,992.0C584.8,991.7 589.3,991.0 597.0,991.0C604.7,991.0 614.7,991.7 623.0,992.0C631.3,992.3 643.0,992.8 647.0,993.0" stroke="#9a35ff"/>
<path d="M87.0,959.0C97.8,959.0 139.3,959.1 152.0,959.0C164.7,958.9 160.4,959.2 163.0,958.5C165.6,957.8 166.2,957.2 167.7,955.0C169.1,952.8 170.5,949.2 171.7,945.0C172.9,940.8 173.3,936.4 175.0,930.0C176.7,923.6 179.8,912.0 181.7,906.7C183.6,901.4 185.4,899.7 186.7,898.0C188.0,896.3 188.4,896.7 189.3,896.7C190.2,896.7 190.8,896.6 192.0,898.0C193.2,899.4 195.2,901.8 196.7,905.0C198.2,908.2 199.3,912.8 201.0,917.0C202.7,921.2 204.9,926.0 206.7,930.0C208.5,934.0 210.1,938.0 212.0,941.0C213.9,944.0 215.0,946.0 218.3,948.3C221.6,950.6 226.7,953.5 231.7,955.0C236.7,956.5 243.2,957.0 248.3,957.3C253.4,957.6 258.4,957.0 262.0,956.7C265.6,956.4 267.5,956.2 270.0,955.3C272.5,954.4 274.8,953.1 277.0,951.5C279.2,949.9 280.8,947.7 283.3,945.8C285.8,943.9 288.9,941.4 292.0,940.0C295.1,938.6 297.8,937.3 302.0,937.3C306.2,937.3 310.7,938.7 317.0,940.0C323.3,941.3 331.2,943.8 340.0,945.0C348.8,946.2 362.2,946.0 370.0,947.0C377.8,948.0 381.5,950.0 387.0,951.0C392.5,952.0 397.5,953.2 403.0,953.0C408.5,952.8 415.0,951.3 420.0,950.0C425.0,948.7 428.5,946.2 433.0,945.0C437.5,943.8 440.8,943.0 447.0,943.0C453.2,943.0 461.7,944.3 470.0,945.0C478.3,945.7 489.2,946.3 497.0,947.0C504.8,947.7 508.2,948.5 517.0,949.0C525.8,949.5 540.0,950.2 550.0,950.0C560.0,949.8 569.2,948.5 577.0,948.0C584.8,947.5 589.3,947.0 597.0,947.0C604.7,947.0 614.7,947.5 623.0,948.0C631.3,948.5 643.0,949.7 647.0,950.0" stroke="#8e1a8e"/>
</g>
<g class="lb">
<text transform="translate(95.0,150.0) scale(1.045,1)" font-size="29.3">bulk</text>
<text transform="translate(92.7,184.5) scale(1.045,1)" font-size="29.3">5000</text>
<text transform="translate(89.5,216.0) scale(1.045,1)" font-size="29.3">4000</text>
<text transform="translate(91.7,245.5) scale(1.045,1)" font-size="29.3">1000</text>
<text transform="translate(91.6,282.0) scale(1.045,1)" font-size="29.3">700</text>
<text transform="translate(94.2,308.0) scale(1.045,1)" font-size="29.3">400</text>
<text transform="translate(95.3,338.0) scale(1.045,1)" font-size="29.3">200</text>
<text transform="translate(93.0,369.5) scale(1.045,1)" font-size="29.3">100</text>
<text transform="translate(98.1,405.0) scale(1.045,1)" font-size="29.3">50</text>
<text transform="translate(95.4,585.0) scale(1.045,1)" font-size="29.3">5000</text>
<text transform="translate(94.2,620.0) scale(1.045,1)" font-size="29.3">4000</text>
<text transform="translate(94.4,653.5) scale(1.045,1)" font-size="29.3">1000</text>
<text transform="translate(96.3,687.5) scale(1.045,1)" font-size="29.3">700</text>
<text transform="translate(98.2,722.0) scale(1.045,1)" font-size="29.3">400</text>
<text transform="translate(101.3,758.0) scale(1.045,1)" font-size="29.3">200</text>
<text transform="translate(101.0,788.5) scale(1.045,1)" font-size="29.3">100</text>
<text transform="translate(104.1,820.0) scale(1.045,1)" font-size="29.3">50</text>
<text transform="translate(95.4,954.0) scale(1.045,1)" font-size="29.3">5000</text>
<text transform="translate(92.2,994.5) scale(1.045,1)" font-size="29.3">4000</text>
<text transform="translate(93.0,1038.0) scale(1.045,1)" font-size="29.3">1000</text>
<text transform="translate(95.6,1076.0) scale(1.045,1)" font-size="29.3">700</text>
<text transform="translate(93.5,1118.8) scale(1.045,1)" font-size="29.3">400</text>
<text transform="translate(96.0,1155.0) scale(1.045,1)" font-size="29.3">200</text>
<text transform="translate(93.7,1196.5) scale(1.045,1)" font-size="29.3">100</text>
<text transform="translate(99.4,1233.0) scale(1.045,1)" font-size="29.3">50</text>
<text x="101.3" y="47.5" font-size="45.5" text-anchor="start" >a</text>
<text x="111.3" y="480.0" font-size="45.5" text-anchor="start" >b</text>
<text x="117.5" y="887.5" font-size="45.5" text-anchor="start" >c</text>
<text x="275.5" y="65.2" font-size="42" font-style="italic" class="big">g</text>
<text x="300.6" y="81.3" font-size="28" font-style="italic">total</text>
<text transform="translate(353.2,67.6) scale(0.98,1)" font-size="49.5" font-style="italic" class="big">(r)</text>
<text x="282.5" y="481.9" font-size="42" font-style="italic" class="big">g</text>
<text x="306.6" y="497.3" font-size="28" font-style="italic">core</text>
<text transform="translate(358.7,483.7) scale(0.98,1)" font-size="49.5" font-style="italic" class="big">(r)</text>
<text x="284.5" y="901.9" font-size="42" font-style="italic" class="big">g</text>
<text x="307.3" y="917.4" font-size="27" font-style="italic">shell</text>
<text transform="translate(361.3,904.1) scale(0.915,1)" font-size="49.5" font-style="italic" class="big">(r)</text>
<text x="87.0" y="1289.0" font-size="30.5" text-anchor="middle" >1</text>
<text x="149.2" y="1289.0" font-size="30.5" text-anchor="middle" >2</text>
<text x="211.3" y="1289.0" font-size="30.5" text-anchor="middle" >3</text>
<text x="273.5" y="1289.0" font-size="30.5" text-anchor="middle" >4</text>
<text x="335.7" y="1289.0" font-size="30.5" text-anchor="middle" >5</text>
<text x="397.8" y="1289.0" font-size="30.5" text-anchor="middle" >6</text>
<text x="460.0" y="1289.0" font-size="30.5" text-anchor="middle" >7</text>
<text x="522.2" y="1289.0" font-size="30.5" text-anchor="middle" >8</text>
<text x="584.3" y="1289.0" font-size="30.5" text-anchor="middle" >9</text>
<text x="646.5" y="1289.0" font-size="30.5" text-anchor="middle" >10</text>
<text x="320" y="1335" font-size="42" class="big">r <tspan style="font-family:'Liberation Serif',serif;fill:#3c3c3c">(Å)</tspan></text>
<text transform="translate(39.6,742.3) rotate(-90)" font-size="44.3" class="big"><tspan font-style="italic">g(r)</tspan> (a.u.)</text>
<text x="125.5" y="701.5" font-size="10" style="fill:#777;stroke:none">5</text>
</g>

<g>
<ellipse cx="570.6" cy="491.7" rx="37.2" ry="33.3" fill="#5b9bd5" stroke="#4278ac" stroke-width="1.4"/>
<path d="M515,491.7 L568.9,491.7 L601.5,479.6" fill="none" stroke="#e0242a" stroke-width="2.2"/>
<path d="M511.8,491.7 l5,-2.6 v5.2z M604.3,478.6 l-5.6,-0.6 l1.9,4.9z" fill="#e0242a" stroke="none"/>
<path d="M569.2,436 V455" fill="none" stroke="#e0242a" stroke-width="2.1"/>
<path d="M569.2,432.6 l-2.4,5 h4.8z M569.2,458 l-2.4,-5 h4.8z" fill="#e0242a" stroke="none"/>
<text x="520.3" y="486" style="font-family:'Liberation Serif',serif;font-weight:bold" font-size="24.5">r</text>
<text x="572" y="457" style="font-family:'Liberation Serif',serif;font-weight:bold" font-size="27">d</text>
<text x="586.8" y="463" style="font-family:'Liberation Serif',serif;font-weight:bold" font-size="18">shell</text>
<ellipse cx="570.6" cy="490" rx="60.5" ry="58.3" fill="none" stroke="#41719c" stroke-width="1.9"/>
</g>

<g class="t"><line x1="118.1" y1="422.5" x2="118.1" y2="418.1"/><line x1="149.2" y1="422.5" x2="149.2" y2="414.7"/><line x1="180.2" y1="422.5" x2="180.2" y2="418.1"/><line x1="211.3" y1="422.5" x2="211.3" y2="414.7"/><line x1="242.4" y1="422.5" x2="242.4" y2="418.1"/><line x1="273.5" y1="422.5" x2="273.5" y2="414.7"/><line x1="304.6" y1="422.5" x2="304.6" y2="418.1"/><line x1="335.7" y1="422.5" x2="335.7" y2="414.7"/><line x1="366.8" y1="422.5" x2="366.8" y2="418.1"/><line x1="397.8" y1="422.5" x2="397.8" y2="414.7"/><line x1="428.9" y1="422.5" x2="428.9" y2="418.1"/><line x1="460.0" y1="422.5" x2="460.0" y2="414.7"/><line x1="491.1" y1="422.5" x2="491.1" y2="418.1"/><line x1="522.2" y1="422.5" x2="522.2" y2="414.7"/><line x1="553.2" y1="422.5" x2="553.2" y2="418.1"/><line x1="584.3" y1="422.5" x2="584.3" y2="414.7"/><line x1="615.4" y1="422.5" x2="615.4" y2="418.1"/><line x1="118.1" y1="840.0" x2="118.1" y2="835.6"/><line x1="149.2" y1="840.0" x2="149.2" y2="832.2"/><line x1="180.2" y1="840.0" x2="180.2" y2="835.6"/><line x1="211.3" y1="840.0" x2="211.3" y2="832.2"/><line x1="242.4" y1="840.0" x2="242.4" y2="835.6"/><line x1="273.5" y1="840.0" x2="273.5" y2="832.2"/><line x1="304.6" y1="840.0" x2="304.6" y2="835.6"/><line x1="335.7" y1="840.0" x2="335.7" y2="832.2"/><line x1="366.8" y1="840.0" x2="366.8" y2="835.6"/><line x1="397.8" y1="840.0" x2="397.8" y2="832.2"/><line x1="428.9" y1="840.0" x2="428.9" y2="835.6"/><line x1="460.0" y1="840.0" x2="460.0" y2="832.2"/><line x1="491.1" y1="840.0" x2="491.1" y2="835.6"/><line x1="522.2" y1="840.0" x2="522.2" y2="832.2"/><line x1="553.2" y1="840.0" x2="553.2" y2="835.6"/><line x1="584.3" y1="840.0" x2="584.3" y2="832.2"/><line x1="615.4" y1="840.0" x2="615.4" y2="835.6"/><line x1="118.1" y1="1257.4" x2="118.1" y2="1253.0"/><line x1="149.2" y1="1257.4" x2="149.2" y2="1249.6"/><line x1="180.2" y1="1257.4" x2="180.2" y2="1253.0"/><line x1="211.3" y1="1257.4" x2="211.3" y2="1249.6"/><line x1="242.4" y1="1257.4" x2="242.4" y2="1253.0"/><line x1="273.5" y1="1257.4" x2="273.5" y2="1249.6"/><line x1="304.6" y1="1257.4" x2="304.6" y2="1253.0"/><line x1="335.7" y1="1257.4" x2="335.7" y2="1249.6"/><line x1="366.8" y1="1257.4" x2="366.8" y2="1253.0"/><line x1="397.8" y1="1257.4" x2="397.8" y2="1249.6"/><line x1="428.9" y1="1257.4" x2="428.9" y2="1253.0"/><line x1="460.0" y1="1257.4" x2="460.0" y2="1249.6"/><line x1="491.1" y1="1257.4" x2="491.1" y2="1253.0"/><line x1="522.2" y1="1257.4" x2="522.2" y2="1249.6"/><line x1="553.2" y1="1257.4" x2="553.2" y2="1253.0"/><line x1="584.3" y1="1257.4" x2="584.3" y2="1249.6"/><line x1="615.4" y1="1257.4" x2="615.4" y2="1253.0"/></g>
<g class="f"><rect x="87.0" y="7.3" width="559.5" height="1250.1" fill="none"/><line x1="87.0" y1="422.5" x2="646.5" y2="422.5"/><line x1="87.0" y1="840.0" x2="646.5" y2="840.0"/></g>
</svg>
</body></html>
